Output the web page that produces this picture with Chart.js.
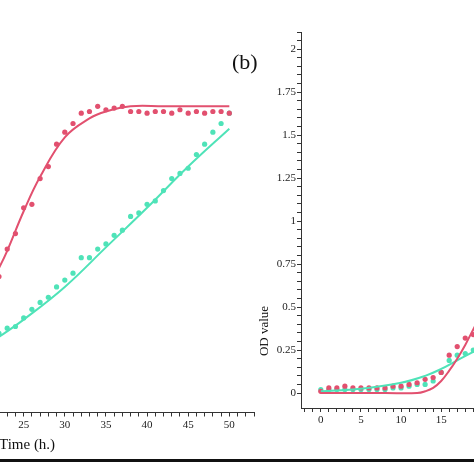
<!DOCTYPE html>
<html><head><meta charset="utf-8">
<script src="https://cdn.jsdelivr.net/npm/chart.js@4"></script>
<style>
html,body{margin:0;padding:0;width:474px;height:474px;overflow:hidden;background:#fff;position:relative;font-family:"Liberation Serif","DejaVu Serif",serif;}
canvas{position:absolute;}
.t{position:absolute;color:#111;white-space:nowrap;}
</style></head><body>
<canvas id="ca" style="left:-250px;top:0;width:508px;height:472px" width="508" height="472"></canvas>
<canvas id="cb" style="left:241px;top:0;width:485px;height:458px" width="485" height="458"></canvas>
<div class="t" style="left:-1px;top:436px;font-size:15px;">Time (h.)</div>
<div class="t" style="left:232px;top:49px;font-size:22px;">(b)</div>
<div class="t" style="left:234px;top:323px;font-size:13px;transform:rotate(-90deg);transform-origin:center;width:60px;text-align:center;">OD value</div>
<div style="position:absolute;left:0;top:459px;width:474px;height:3px;background:#111;"></div>
<script>
// Panel (a)
const aTime = [22,23,24,25,26,27,28,29,30,31,32,33,34,35,36,37,38,39,40,41,42,43,44,45,46,47,48,49,50];
const aRed  = [0.70,0.86,0.95,1.10,1.12,1.27,1.34,1.47,1.54,1.59,1.65,1.66,1.69,1.67,1.68,1.69,1.66,1.66,1.65,1.66,1.66,1.65,1.67,1.65,1.66,1.65,1.66,1.66,1.65];
const aCyan = [0.37,0.40,0.41,0.46,0.51,0.55,0.58,0.64,0.68,0.72,0.81,0.81,0.86,0.89,0.94,0.97,1.05,1.07,1.12,1.14,1.20,1.27,1.30,1.33,1.41,1.47,1.54,1.59,1.65];
const aRedFitT = [20,21,22,23,25,27,30,33,35,38,42,46,50];
const aRedFit  = [0.58,0.66,0.75,0.85,1.08,1.28,1.51,1.62,1.66,1.69,1.69,1.69,1.69];
const aCyanFitT = [20,22,25,30,35,40,45,50];
const aCyanFit  = [0.29,0.35,0.45,0.64,0.87,1.10,1.34,1.56];
const aXTicks = [25,30,35,40,45,50];
// Panel (b)
const bTime = [0,1,2,3,4,5,6,7,8,9,10,11,12,13,14,15,16,17,18,19];
const bRed  = [0.01,0.03,0.03,0.04,0.03,0.03,0.03,0.03,0.03,0.04,0.04,0.05,0.06,0.08,0.09,0.12,0.22,0.27,0.32,0.34];
const bCyan = [0.02,0.02,0.02,0.02,0.02,0.02,0.02,0.02,0.02,0.03,0.03,0.04,0.05,0.05,0.07,0.12,0.19,0.22,0.23,0.25];
const bRedFitT = [0,4,8,12,13,14,15,16,17,18,19,20];
const bRedFit  = [0,0,0,0,0.01,0.03,0.07,0.13,0.20,0.28,0.37,0.46];
const bCyanFitT = [0,5,10,13,15,17,19,20];
const bCyanFit  = [0.01,0.025,0.06,0.10,0.14,0.19,0.24,0.26];
const bYTicks = [0,0.25,0.5,0.75,1,1.25,1.5,1.75,2];
const bXTicks = [0,5,10,15];

const RED='#e2506f', CYAN='#4fe3b8';
const pts=(xs,ys)=>xs.map((x,i)=>({x,y:ys[i]}));
const isMaj=(v,list)=>list.some(t=>Math.abs(t-v)<1e-6);
const font={family:'"Liberation Serif","DejaVu Serif",serif',size:11};

function makeChart(id,cfg){
  const ds=[
    {type:'line',data:pts(cfg.rft,cfg.rf),borderColor:RED,borderWidth:2,pointRadius:0,tension:0.4,fill:false},
    {type:'line',data:pts(cfg.cft,cfg.cf),borderColor:CYAN,borderWidth:2,pointRadius:0,tension:0.4,fill:false},
    {type:'scatter',data:pts(cfg.t,cfg.r),backgroundColor:RED,borderWidth:0,pointRadius:2.6},
    {type:'scatter',data:pts(cfg.t,cfg.c),backgroundColor:CYAN,borderWidth:0,pointRadius:2.6}
  ];
  new Chart(document.getElementById(id),{
    data:{datasets:ds},
    options:{responsive:false,animation:false,events:[],
      layout:{padding:{top:cfg.padTop,right:0,left:0,bottom:0}},
      plugins:{legend:{display:false},tooltip:{enabled:false}},
      scales:{
        x:{type:'linear',min:cfg.xmin,max:cfg.xmax,
          afterBuildTicks:s=>{const a=[];for(let v=Math.ceil(cfg.xmin);v<=cfg.xmax;v++)a.push({value:v});s.ticks=a;},
          afterFit:s=>{s.height=cfg.xh;},
          ticks:{autoSkip:false,maxRotation:0,color:'#222',font,padding:2,callback:v=>isMaj(v,cfg.xt)?String(v):''},
          grid:{drawOnChartArea:false,tickLength:4,color:'#333'},
          border:{color:'#333',width:1}},
        y:{type:'linear',min:cfg.ymin,max:cfg.ymax,
          afterBuildTicks:s=>{const a=[];for(let k=0;k*0.05<=cfg.ymax+1e-9;k++)a.push({value:+(k*0.05).toFixed(2)});s.ticks=a;},
          afterFit:s=>{s.width=cfg.yw;},
          ticks:{autoSkip:false,color:'#222',font,padding:1,callback:v=>isMaj(v,cfg.yt)?String(v):''},
          grid:{drawOnChartArea:false,tickLength:4,color:'#333'},
          border:{color:'#333',width:1}}
      }}
  });
}
makeChart('ca',{t:aTime,r:aRed,c:aCyan,rft:aRedFitT,rf:aRedFit,cft:aCyanFitT,cf:aCyanFit,
  xmin:0,xmax:53,ymin:-0.09,ymax:2.1,padTop:35.8,xh:59.5,yw:68,xt:aXTicks,yt:bYTicks});
makeChart('cb',{t:bTime,r:bRed,c:bCyan,rft:bRedFitT,rf:bRedFit,cft:bCyanFitT,cf:bCyanFit,
  xmin:-2.47,xmax:50,ymin:-0.087,ymax:2.1,padTop:32,xh:50,yw:60,xt:bXTicks,yt:bYTicks});
</script>
</body></html>
